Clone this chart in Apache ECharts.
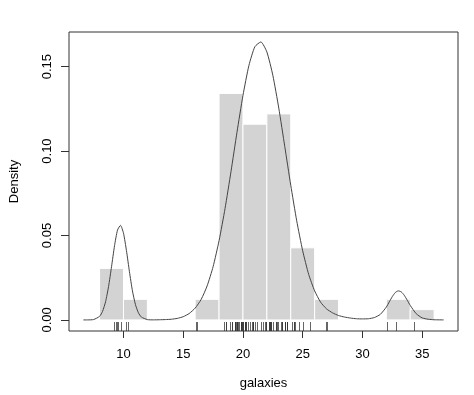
<!DOCTYPE html>
<html>
<head>
<meta charset="utf-8">
<script src="https://cdn.jsdelivr.net/npm/echarts@6/dist/echarts.min.js"></script>
<style>
  html, body { margin: 0; padding: 0; background: #fff; }
  #chart { width: 474px; height: 395px; }
</style>
</head>
<body>
<div id="chart"></div>
<script>
// Histogram bins (galaxies velocity / 1000), density scale
const binStarts = [8, 10, 12, 14, 16, 18, 20, 22, 24, 26, 28, 30, 32, 34];
const binEnds   = [10, 12, 14, 16, 18, 20, 22, 24, 26, 28, 30, 32, 34, 36];
const binDensity = [0.0305, 0.0122, 0, 0, 0.0122, 0.1341, 0.1159, 0.1220, 0.0427, 0.0122, 0, 0, 0.0122, 0.0061];

// Fitted density curve
const curveX = [6.65, 7, 7.5, 8, 8.25, 8.5, 8.75, 9, 9.25, 9.5, 9.75, 10, 10.25, 10.5, 10.75, 11, 11.25, 11.5, 12, 12.5,
  13, 13.5, 14, 14.5, 15, 15.5, 16, 16.5, 17, 17.5, 18, 18.5, 19, 19.5, 20, 20.5, 21, 21.5, 22, 22.5,
  23, 23.5, 24, 24.5, 25, 25.5, 26, 26.5, 27, 27.5, 28, 28.5, 29, 29.5, 30, 30.5, 31, 31.5, 32, 32.25,
  32.5, 32.75, 33, 33.25, 33.5, 33.75, 34, 34.5, 35, 35.5, 36, 36.8];
const curveY = [0, 0.00001, 0.00023, 0.0021, 0.0051, 0.0107, 0.0197, 0.0315, 0.0439, 0.0532, 0.0560, 0.0514, 0.0410, 0.0285, 0.0172, 0.0091, 0.0042, 0.0017, 0.0002, 0.00003,
  0.0001, 0.0002, 0.0004, 0.0009, 0.0019, 0.0038, 0.0070, 0.0121, 0.0201, 0.0315, 0.0469, 0.0659, 0.0879, 0.1111, 0.1329, 0.1507, 0.1618, 0.1646, 0.1587, 0.1449,
  0.1254, 0.1027, 0.0798, 0.0587, 0.0409, 0.0270, 0.0172, 0.0105, 0.0065, 0.0042, 0.0026, 0.0017, 0.0011, 0.0007, 0.0006, 0.0007, 0.0014, 0.0033, 0.0076, 0.0107,
  0.0138, 0.0162, 0.0172, 0.0166, 0.0146, 0.0117, 0.0086, 0.0037, 0.0012, 0.0004, 0.0001, 0.00002];

// Rug: individual observations
const galaxies = [9.172, 9.350, 9.483, 9.558, 9.775, 10.227, 10.406, 16.084, 16.170, 18.419, 18.552, 18.600, 18.927,
  19.052, 19.070, 19.330, 19.343, 19.349, 19.440, 19.473, 19.529, 19.541, 19.547, 19.663, 19.846, 19.856, 19.863,
  19.914, 19.918, 19.973, 19.989, 20.166, 20.175, 20.179, 20.196, 20.215, 20.221, 20.415, 20.629, 20.795, 20.821,
  20.846, 20.875, 20.986, 21.137, 21.492, 21.701, 21.814, 21.921, 21.960, 22.185, 22.209, 22.242, 22.249, 22.314,
  22.374, 22.495, 22.746, 22.747, 22.888, 22.914, 23.206, 23.241, 23.263, 23.484, 23.538, 23.542, 23.666, 23.706,
  23.711, 24.129, 24.285, 24.289, 24.366, 24.717, 24.990, 25.633, 26.960, 26.995, 32.065, 32.789, 34.279];

const xTicks = [10, 15, 20, 25, 30, 35];
const yTicks = [0, 0.05, 0.10, 0.15];

const X_MIN = 5.44, X_MAX = 38.0;
const Y_MIN = -0.00656, Y_MAX = 0.1705;
const FONT = '"Liberation Sans", Arial, Helvetica, sans-serif';

const chart = echarts.init(document.getElementById('chart'), null, { renderer: 'canvas' });

const barData = binStarts.map((s, i) => [s, binEnds[i], binDensity[i]]).filter(d => d[2] > 0);
const curveData = curveX.map((x, i) => [x, curveY[i]]);
const rugData = galaxies.map(v => [v]);

chart.setOption({
  animation: false,
  backgroundColor: '#ffffff',
  grid: {
    left: 63, right: 16, top: 32, bottom: 64,
    show: true, borderColor: '#333333', borderWidth: 1, backgroundColor: 'transparent'
  },
  xAxis: {
    type: 'value', min: X_MIN, max: X_MAX,
    name: 'galaxies', nameLocation: 'middle', nameGap: 46,
    nameTextStyle: { fontFamily: FONT, fontSize: 13, color: '#000' },
    axisLine: { show: false, onZero: false },
    splitLine: { show: false },
    axisTick: { show: true, inside: false, length: 7, lineStyle: { color: '#333', width: 1 }, customValues: xTicks },
    axisLabel: { customValues: xTicks, margin: 17, fontFamily: FONT, fontSize: 13, color: '#000' }
  },
  yAxis: {
    type: 'value', min: Y_MIN, max: Y_MAX,
    name: 'Density', nameLocation: 'middle', nameGap: 48, nameRotate: 90,
    nameTextStyle: { fontFamily: FONT, fontSize: 13, color: '#000' },
    axisLine: { show: false, onZero: false },
    splitLine: { show: false },
    axisTick: { show: true, inside: false, length: 8, lineStyle: { color: '#333', width: 1 }, customValues: yTicks },
    axisLabel: {
      customValues: yTicks, rotate: 90, margin: 15, fontFamily: FONT, fontSize: 13, color: '#000',
      formatter: v => v.toFixed(2)
    }
  },
  series: [
    {
      type: 'custom',
      data: barData,
      silent: true,
      renderItem: function (params, api) {
        const p0 = api.coord([api.value(0), api.value(2)]);
        const p1 = api.coord([api.value(1), 0]);
        return {
          type: 'rect',
          shape: { x: p0[0], y: p0[1], width: p1[0] - p0[0], height: p1[1] - p0[1] },
          style: { fill: '#d3d3d3', stroke: '#ffffff', lineWidth: 1 }
        };
      },
      z: 1
    },
    {
      type: 'custom',
      data: rugData,
      silent: true,
      renderItem: function (params, api) {
        const p = api.coord([api.value(0), Y_MIN]);
        const x = Math.round(p[0]) + 0.5;
        return {
          type: 'line',
          shape: { x1: x, y1: p[1], x2: x, y2: p[1] - 9 },
          style: { stroke: '#333333', lineWidth: 1, opacity: 0.75 }
        };
      },
      z: 2
    },
    {
      type: 'line',
      data: curveData,
      showSymbol: false,
      smooth: 0.2,
      silent: true,
      lineStyle: { color: '#444444', width: 1 },
      z: 3
    }
  ]
});
</script>
</body>
</html>
